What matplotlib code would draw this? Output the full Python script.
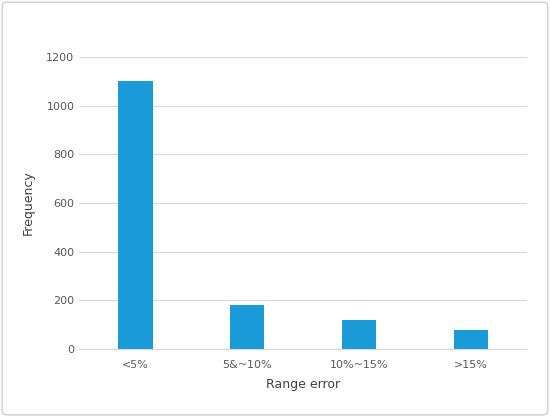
import matplotlib.pyplot as plt
from matplotlib.patches import FancyBboxPatch

categories = ['<5%', '5&~10%', '10%~15%', '>15%']
values = [1100, 180, 120, 80]
yticks = [0, 200, 400, 600, 800, 1000, 1200]

fig = plt.figure(figsize=(5.5, 4.17), dpi=100)
fig.patches.append(FancyBboxPatch((0.004, 0.005), 0.992, 0.99, boxstyle='round,pad=0,rounding_size=0.01',
                                  transform=fig.transFigure, fill=False, edgecolor='#d0d0d0', lw=1))
ax = fig.add_axes([0.144, 0.163, 0.814, 0.70])
x = range(len(categories))
ax.bar(x, values, width=0.31, color='#1a9bd7', zorder=3)
ax.set_xlim(-0.5, len(categories) - 0.5)
ax.set_ylim(0, 1200)
ax.set_yticks(yticks)
ax.set_xticks(list(x))
ax.set_xticklabels(categories)
ax.grid(axis='y', color='#d9d9d9', lw=0.8, zorder=0)
for s in ['top', 'right', 'left']:
    ax.spines[s].set_visible(False)
ax.spines['bottom'].set_color('#d9d9d9')
ax.tick_params(length=0, colors='#595959', labelsize=8)
ax.tick_params(axis='x', pad=8)
ax.set_xlabel('Range error', fontsize=9, color='#404040', labelpad=6)
ax.set_ylabel('Frequency', fontsize=9, color='#404040', labelpad=8)
fig.savefig('out.png', dpi=100)
